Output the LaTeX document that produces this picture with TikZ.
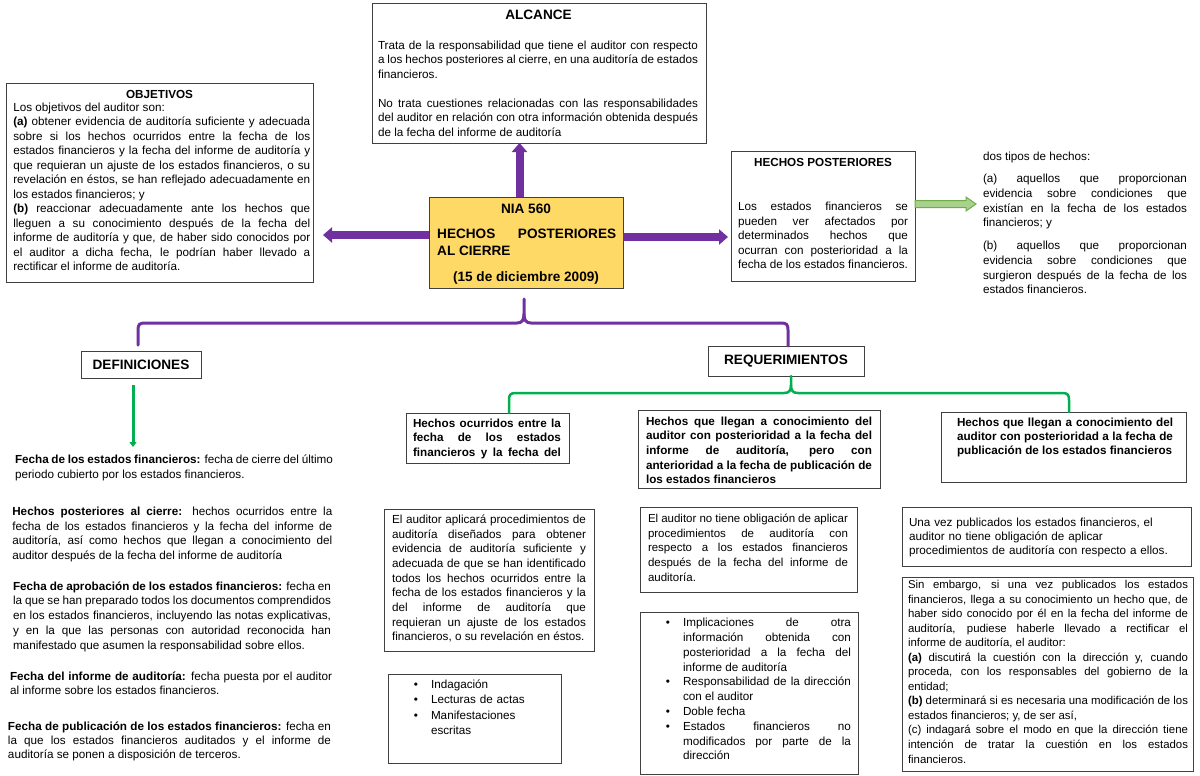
\documentclass[tikz,border=0pt]{standalone}
\usepackage{fontspec}
\setmainfont{Liberation Sans}
\usetikzlibrary{arrows.meta,calc}
\setlength{\parindent}{0pt}
\setlength{\parskip}{0pt}
\definecolor{purp}{HTML}{7030A0}
\definecolor{grn}{HTML}{00B050}
\definecolor{gfill}{HTML}{A9D18E}
\definecolor{gdraw}{HTML}{70AD47}
\definecolor{niaf}{HTML}{FFD966}
\definecolor{bord}{HTML}{404040}
\newcommand{\fs}[2]{\fontsize{#1}{#2}\selectfont}
\newcommand{\bul}{\leavevmode\llap{\textbullet\hspace{13pt}}}
\begin{document}
\begin{tikzpicture}[x=1pt,y=-1pt,
 box/.style={draw=bord,line width=0.8pt,inner sep=0pt,outer sep=0pt,anchor=north west},
 txt/.style={inner sep=0pt,outer sep=0pt,anchor=north west,align=justify},
 ttl/.style={inner sep=0pt,outer sep=0pt,anchor=base,font=\bfseries\fs{11.7}{14}},
 big/.style={font=\bfseries\fs{13.6}{16}},
 parrow/.style={draw=purp,line width=8pt,-{Triangle[length=9pt,width=15pt]}},
 pbrace/.style={draw=purp,line width=3pt,line cap=round},
 gbrace/.style={draw=grn,line width=2.5pt,line cap=round},
 garrow/.style={draw=grn,line width=3pt,-{Triangle[length=5pt,width=7pt]}},
 gblock/.style={fill=gfill,draw=gdraw,line width=1pt}]
\fill[white] (0,0) rectangle (1200,776);
\useasboundingbox (0,0) rectangle (1200,776);

% ---------- boxes ----------
\node[box,minimum width=334pt,minimum height=140pt] (alc) at (372,3) {};
\node[box,minimum width=307pt,minimum height=199pt] (obj) at (6,83) {};
\node[box,fill=niaf,minimum width=194pt,minimum height=91pt] (nia) at (429,197) {};
\node[box,minimum width=184pt,minimum height=130pt] (hp) at (731,151) {};
\node[box,big,minimum width=120pt,minimum height=27pt] (def) at (81,351) {DEFINICIONES};
\node[box,big,minimum width=156pt,minimum height=30pt] (req) at (708,346) {REQUERIMIENTOS};
\node[box,minimum width=163pt,minimum height=50pt] (r1) at (406,413) {};
\node[box,minimum width=242pt,minimum height=78pt] (r2) at (638,410) {};
\node[box,minimum width=245pt,minimum height=70pt] (r3) at (941,412) {};
\node[box,minimum width=210pt,minimum height=142pt] (apl) at (384,509) {};
\node[box,minimum width=217pt,minimum height=85pt] (nob) at (640,507) {};
\node[box,minimum width=289pt,minimum height=59pt] (una) at (902,507) {};
\node[box,minimum width=291pt,minimum height=194pt] (sin) at (902,577) {};
\node[box,minimum width=173pt,minimum height=89pt] (ind) at (388,674) {};
\node[box,minimum width=218pt,minimum height=162pt] (imp) at (640,612) {};

% ---------- ALCANCE ----------
\node[ttl,big] (alct) at (538.5,20) {ALCANCE};
\node[txt,text width=320pt,font=\fs{11.7}{14.5}] (alcx) at (378,39.35) {\strut Trata de la responsabilidad que tiene el auditor con respecto\linebreak a los hechos posteriores al cierre, en una auditoría de estados\linebreak financieros.\par\vspace{14.5pt}No trata cuestiones relacionadas con las responsabilidades\linebreak del auditor en relación con otra información obtenida después\linebreak de la fecha del informe de auditoría};

% ---------- OBJETIVOS ----------
\node[ttl] (objt) at (159.5,98.6) {OBJETIVOS};
\node[txt,text width=297pt,font=\fs{11.7}{14.45}] (objx) at (13.3,101.4) {\strut Los objetivos del auditor son:\par
\textbf{(a)} obtener evidencia de auditoría suficiente y adecuada\linebreak sobre si los hechos ocurridos entre la fecha de los\linebreak estados financieros y la fecha del informe de auditoría y\linebreak que requieran un ajuste de los estados financieros, o su\linebreak revelación en éstos, se han reflejado adecuadamente en\linebreak los estados financieros; y\par
\textbf{(b)} reaccionar adecuadamente ante los hechos que\linebreak lleguen a su conocimiento después de la fecha del\linebreak informe de auditoría y que, de haber sido conocidos por\linebreak el auditor a dicha fecha, le podrían haber llevado a\linebreak rectificar el informe de auditoría.};

% ---------- NIA ----------
\node[ttl,big] (nia1) at (526,213.2) {NIA 560};
\node[inner sep=0pt,anchor=base west,big] (nia2) at (437,238) {\hbox to 179pt{HECHOS\hfill POSTERIORES}};
\node[inner sep=0pt,anchor=base west,big] (nia3) at (437,255) {AL CIERRE};
\node[ttl,big] (nia4) at (526,281) {(15 de diciembre 2009)};

% ---------- HECHOS POSTERIORES ----------
\node[ttl] (hpt) at (823,166.3) {HECHOS POSTERIORES};
\node[txt,text width=170pt,font=\fs{11.7}{14.5}] (hpx) at (738,200.35) {\strut Los estados financieros se\linebreak pueden ver afectados por\linebreak determinados hechos que\linebreak ocurran con posterioridad a la\linebreak fecha de los estados financieros.};

% ---------- dos tipos ----------
\node[txt,text width=204pt,font=\fs{11.7}{14.7}] (dos) at (983,149.9) {\strut dos tipos de hechos:\par\vspace{8pt}(a) aquellos que proporcionan\linebreak evidencia sobre condiciones que\linebreak existían en la fecha de los estados\linebreak financieros; y\par\vspace{8pt}(b) aquellos que proporcionan\linebreak evidencia sobre condiciones que\linebreak surgieron después de la fecha de los\linebreak estados financieros.};

% ---------- definiciones ----------
\node[txt,text width=318pt,font=\fs{11.7}{15}] (d1) at (15,453) {\strut\textbf{Fecha de los estados financieros:} fecha de cierre del último\linebreak periodo cubierto por los estados financieros.};
\node[txt,text width=320pt,font=\fs{11.7}{14.7}] (d2) at (12.3,505.2) {\strut\textbf{Hechos posteriores al cierre:} hechos ocurridos entre la\linebreak fecha de los estados financieros y la fecha del informe de\linebreak auditoría, así como hechos que llegan a conocimiento del\linebreak auditor después de la fecha del informe de auditoría};
\node[txt,text width=318pt,font=\fs{11.7}{14.75}] (d3) at (13,579.9) {\strut\textbf{Fecha de aprobación de los estados financieros:} fecha en\linebreak la que se han preparado todos los documentos comprendidos\linebreak en los estados financieros, incluyendo las notas explicativas,\linebreak y en la que las personas con autoridad reconocida han\linebreak manifestado que asumen la responsabilidad sobre ellos.};
\node[txt,text width=322pt,font=\fs{11.7}{14}] (d4) at (10,671) {\strut\textbf{Fecha del informe de auditoría:} fecha puesta por el auditor\linebreak al informe sobre los estados financieros.};
\node[txt,text width=323pt,font=\fs{11.7}{14}] (d5) at (8,720.4) {\strut\textbf{Fecha de publicación de los estados financieros:} fecha en\linebreak la que los estados financieros auditados y el informe de\linebreak auditoría se ponen a disposición de terceros.};

% ---------- requerimientos ----------
\node[txt,text width=148pt,font=\bfseries\fs{11.7}{14.3}] (r1x) at (413,417.5) {{\parfillskip=0pt\relax\strut Hechos ocurridos entre la\linebreak fecha de los estados\linebreak financieros y la fecha del\par}};
\node[txt,text width=226pt,font=\bfseries\fs{11.7}{14.6}] (r2x) at (646,415) {\strut Hechos que llegan a conocimiento del\linebreak auditor con posterioridad a la fecha del\linebreak informe de auditoría, pero con\linebreak anterioridad a la fecha de publicación de\linebreak los estados financieros};
\node[txt,text width=216pt,font=\bfseries\fs{11.7}{14}] (r3x) at (957,416.7) {\strut Hechos que llegan a conocimiento del\linebreak auditor con posterioridad a la fecha de\linebreak publicación de los estados financieros};

\node[txt,text width=194pt,font=\fs{11.7}{14.65}] (aplx) at (392,513.2) {\strut El auditor aplicará procedimientos de\linebreak auditoría diseñados para obtener\linebreak evidencia de auditoría suficiente y\linebreak adecuada de que se han identificado\linebreak todos los hechos ocurridos entre la\linebreak fecha de los estados financieros y la\linebreak del informe de auditoría que\linebreak requieran un ajuste de los estados\linebreak financieros, o su revelación en éstos.};
\node[txt,text width=200pt,font=\fs{11.5}{14.65}] (nobx) at (648,512.2) {\strut El auditor no tiene obligación de aplicar\linebreak procedimientos de auditoría con\linebreak respecto a los estados financieros\linebreak después de la fecha del informe de\linebreak auditoría.};
\node[txt,align=left,text width=275pt,font=\fs{11.7}{14}] (unax) at (909,516.7) {\strut Una vez publicados los estados financieros, el\\auditor no tiene obligación de aplicar\\procedimientos de auditoría con respecto a ellos.};
\node[txt,text width=280pt,font=\fs{11.4}{14.55}] (sinx) at (908,578.3) {\strut Sin embargo, si una vez publicados los estados\linebreak financieros, llega a su conocimiento un hecho que, de\linebreak haber sido conocido por él en la fecha del informe de\linebreak auditoría, pudiese haberle llevado a rectificar el\linebreak informe de auditoría, el auditor:\par
\textbf{(a)} discutirá la cuestión con la dirección y, cuando\linebreak proceda, con los responsables del gobierno de la\linebreak entidad;\par
\textbf{(b)} determinará si es necesaria una modificación de los\linebreak estados financieros; y, de ser así,\par
(c) indagará sobre el modo en que la dirección tiene\linebreak intención de tratar la cuestión en los estados\linebreak financieros.};
\node[txt,align=left,text width=125pt,font=\fs{11.7}{15.3}] (indx) at (431,677.8) {\bul\strut Indagación\par\bul Lecturas de actas\par\bul Manifestaciones\newline escritas};
\node[txt,text width=168pt,font=\fs{11.7}{14.8}] (impx) at (683,616.4) {\bul\strut Implicaciones de otra\linebreak información obtenida con\linebreak posterioridad a la fecha del\linebreak informe de auditoría\par\bul Responsabilidad de la dirección\linebreak con el auditor\par\bul Doble fecha\par\bul Estados financieros no\linebreak modificados por parte de la\linebreak dirección};

% ---------- purple arrows ----------
\coordinate (upend) at (519.5,143);
\coordinate (lend) at (323,235);
\coordinate (rend) at (728,237);
\draw[parrow] (upend |- nia.north) -- (upend);
\draw[parrow] (lend -| nia.west) -- (lend);
\draw[parrow] (rend -| nia.east) -- (rend);

% ---------- purple brace ----------
\coordinate (btip) at (524,299);
\draw[pbrace] ($(def.north)+(-3,-6)$) -- (138,330) .. controls (138,324.5) and (139.5,323) .. (145,323) -- (517,323) .. controls (522,323) and (524,320) .. (524,314) -- (btip);
\draw[pbrace] (524,314) .. controls (524,320) and (526,323) .. (531,323) -- (781,323) .. controls (786.5,323) and (788,324.5) .. (788,330) -- ($(req.north)+(2,0)$);

% ---------- green brace ----------
\draw[gbrace] ($(r1.north)+(21.5,0)$) -- (509,400) .. controls (509,394.5) and (510.5,393) .. (516,393) -- (784,393) .. controls (789,393) and (791,391) .. (791,385) -- ($(req.south)+(5,0)$);
\draw[gbrace] (791,385) .. controls (791,391) and (793,393) .. (798,393) -- (1062,393) .. controls (1067.5,393) and (1069,394.5) .. (1069,400) -- ($(r3.north)+(5.5,0)$);

% ---------- green arrow down ----------
\coordinate (dg) at (133,447);
\draw[garrow] (dg |- {$(def.south)+(0,7)$}) -- (dg);

% ---------- green block arrow ----------
\coordinate (ga0) at ($(hp.east)+(0,-12)$);
\filldraw[gblock] ($(ga0)+(0,-3.5)$) -- ++(51,0) -- ++(0,-3.5) -- ++(10,7) -- ++(-10,7) -- ++(0,-3.5) -- ++(-51,0) -- cycle;
\end{tikzpicture}
\end{document}
